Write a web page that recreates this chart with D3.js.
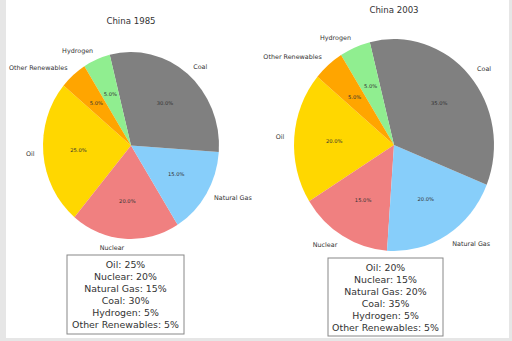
<!DOCTYPE html>
<html>
<head>
<meta charset="utf-8">
<script src="https://cdn.jsdelivr.net/npm/d3@7"></script>
<style>
  body { margin: 0; background: #e6e6e6; }
  svg { display: block; font-family: "DejaVu Sans", sans-serif; }
</style>
</head>
<body>
<svg id="chart" width="512" height="341"></svg>
<script>
// data
var sources = ["Oil", "Nuclear", "Natural Gas", "Coal", "Hydrogen", "Other Renewables"];
var colors = ["#FFD700", "#F08080", "#87CEFA", "#808080", "#90EE90", "#FFA500"];
var values1985 = [25, 20, 15, 30, 5, 5];
var values2003 = [20, 15, 20, 35, 5, 5];
var titles = ["China 1985", "China 2003"];

var svg = d3.select("#chart");

// white figure area (gray frame left / right / bottom)
svg.append("rect")
  .attr("x", 6).attr("y", 0)
  .attr("width", 503).attr("height", 338)
  .attr("fill", "#fff");

var panels = [
  {title: titles[0], values: values1985, cx: 131, cy: 145.5, rx: 88, ry: 93.5, titleY: 21,
   box: {x: 67, y: 255, w: 117, h: 79}},
  {title: titles[1], values: values2003, cx: 394, cy: 145, rx: 100, ry: 106, titleY: 10,
   box: {x: 328, y: 258, w: 115, h: 78}}
];

// matplotlib startangle=140, counter-clockwise
var start = (90 - 140) * Math.PI / 180;
var pie = d3.pie()
  .sort(null)
  .value(function(d) { return d.value; })
  .startAngle(start)
  .endAngle(start - 2 * Math.PI);

panels.forEach(function(p) {
  var data = sources.map(function(s, i) {
    return {label: s, value: p.values[i], color: colors[i]};
  });
  var arcs = pie(data);
  var ky = p.ry / p.rx;
  var arc = d3.arc().innerRadius(0).outerRadius(p.rx);

  svg.append("text")
    .attr("x", p.cx).attr("y", p.titleY)
    .attr("text-anchor", "middle")
    .attr("dominant-baseline", "central")
    .attr("font-size", 8.6)
    .attr("fill", "#333")
    .text(p.title);

  var g = svg.append("g")
    .attr("transform", "translate(" + p.cx + "," + p.cy + ") scale(1," + ky + ")");

  g.selectAll("path")
    .data(arcs)
    .enter()
    .append("path")
    .attr("d", arc)
    .attr("fill", function(d) { return d.data.color; });

  var labels = svg.append("g")
    .attr("transform", "translate(" + p.cx + "," + p.cy + ")");

  function mid(d) { return (d.startAngle + d.endAngle) / 2; }

  // category labels at 1.1 r
  labels.selectAll(".lbl")
    .data(arcs)
    .enter()
    .append("text")
    .attr("class", "lbl")
    .attr("x", function(d) { return 1.1 * p.rx * Math.sin(mid(d)); })
    .attr("y", function(d) { return -1.1 * p.ry * Math.cos(mid(d)); })
    .attr("text-anchor", function(d) { return Math.sin(mid(d)) > 0 ? "start" : "end"; })
    .attr("dominant-baseline", "central")
    .attr("font-size", 6.4)
    .attr("fill", "#333")
    .text(function(d) { return d.data.label; });

  // percent labels at 0.6 r
  labels.selectAll(".pct")
    .data(arcs)
    .enter()
    .append("text")
    .attr("class", "pct")
    .attr("x", function(d) { return 0.6 * p.rx * Math.sin(mid(d)); })
    .attr("y", function(d) { return -0.6 * p.ry * Math.cos(mid(d)); })
    .attr("text-anchor", "middle")
    .attr("dominant-baseline", "central")
    .attr("font-size", 5.2)
    .attr("fill", "#333")
    .text(function(d) { return d.data.value.toFixed(1) + "%"; });

  // summary box
  svg.append("rect")
    .attr("x", p.box.x).attr("y", p.box.y)
    .attr("width", p.box.w).attr("height", p.box.h)
    .attr("fill", "#fff")
    .attr("stroke", "#888")
    .attr("stroke-width", 1);

  svg.append("g").selectAll("text")
    .data(data)
    .enter()
    .append("text")
    .attr("x", p.box.x + p.box.w / 2)
    .attr("y", function(d, i) { return p.box.y + 9.5 + i * 12; })
    .attr("text-anchor", "middle")
    .attr("dominant-baseline", "central")
    .attr("font-size", 9.4)
    .attr("fill", "#333")
    .text(function(d) { return d.label + ": " + d.value + "%"; });
});
</script>
</body>
</html>
